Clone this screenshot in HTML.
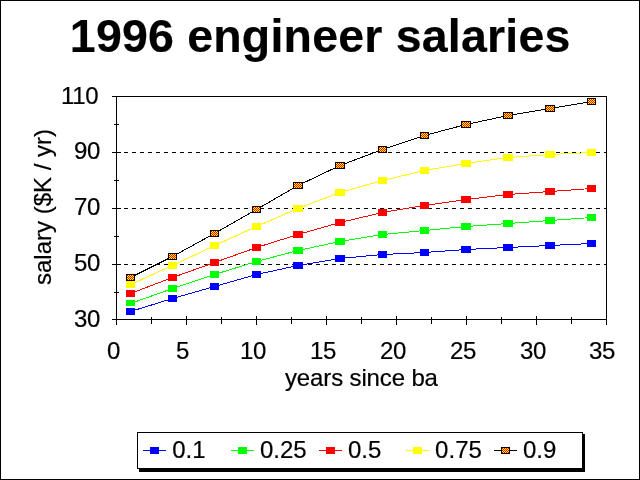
<!DOCTYPE html>
<html><head><meta charset="utf-8"><title>1996 engineer salaries</title>
<style>
html,body{margin:0;padding:0;background:#fff;}
body{width:640px;height:480px;overflow:hidden;}
svg{display:block;}
text{font-family:"Liberation Sans",sans-serif;fill:#000;stroke:#000;stroke-width:0.2px;}
.t{font-size:24px;}
</style></head><body>
<svg width="640" height="480" viewBox="0 0 640 480">
<defs>
<pattern id="chk" x="0" y="0" width="2" height="2" patternUnits="userSpaceOnUse">
<rect x="0" y="0" width="2" height="2" fill="#ff0000"/>
<rect x="1" y="0" width="1" height="1" fill="#ffff00"/>
<rect x="0" y="1" width="1" height="1" fill="#ffff00"/>
</pattern>
</defs>
<rect x="0" y="0" width="640" height="480" fill="#fff"/>
<g shape-rendering="crispEdges">
<rect x="0.5" y="0.5" width="639" height="479" fill="none" stroke="#000" stroke-width="1"/>
<text id="title" x="320.2" y="52.3" text-anchor="middle" letter-spacing="0.2" font-size="46.5" font-weight="bold">1996 engineer salaries</text>
<line x1="116" y1="152.5" x2="606" y2="152.5" stroke="#000" stroke-width="1" stroke-dasharray="4 4"/>
<line x1="116" y1="208.5" x2="606" y2="208.5" stroke="#000" stroke-width="1" stroke-dasharray="4 4"/>
<line x1="116" y1="264.5" x2="606" y2="264.5" stroke="#000" stroke-width="1" stroke-dasharray="4 4"/>
<rect x="116.5" y="96.5" width="490" height="223" fill="none" stroke="#000" stroke-width="1"/>
<rect x="112" y="96" width="9" height="1" fill="#000"/>
<rect x="114" y="124" width="5" height="1" fill="#000"/>
<rect x="112" y="152" width="9" height="1" fill="#000"/>
<rect x="114" y="180" width="5" height="1" fill="#000"/>
<rect x="112" y="208" width="9" height="1" fill="#000"/>
<rect x="114" y="236" width="5" height="1" fill="#000"/>
<rect x="112" y="264" width="9" height="1" fill="#000"/>
<rect x="114" y="292" width="5" height="1" fill="#000"/>
<rect x="112" y="319" width="9" height="1" fill="#000"/>
<rect x="116" y="316" width="1" height="9" fill="#000"/>
<rect x="151" y="317" width="1" height="7" fill="#000"/>
<rect x="186" y="316" width="1" height="9" fill="#000"/>
<rect x="221" y="317" width="1" height="7" fill="#000"/>
<rect x="256" y="316" width="1" height="9" fill="#000"/>
<rect x="291" y="317" width="1" height="7" fill="#000"/>
<rect x="326" y="316" width="1" height="9" fill="#000"/>
<rect x="361" y="317" width="1" height="7" fill="#000"/>
<rect x="396" y="316" width="1" height="9" fill="#000"/>
<rect x="431" y="317" width="1" height="7" fill="#000"/>
<rect x="466" y="316" width="1" height="9" fill="#000"/>
<rect x="501" y="317" width="1" height="7" fill="#000"/>
<rect x="536" y="316" width="1" height="9" fill="#000"/>
<rect x="571" y="317" width="1" height="7" fill="#000"/>
<rect x="606" y="316" width="1" height="9" fill="#000"/>
<polyline points="130.5,311.5 172.5,298.5 214.5,286.5 256.5,274.5 298.0,265.5 340.0,258.5 382.5,254.5 424.5,252.5 466.0,249.5 508.0,247.5 550.0,245.5 591.5,243.5" fill="none" stroke="#0000ff" stroke-width="1"/>
<rect x="126" y="308" width="9" height="7" fill="#0000ff"/>
<rect x="168" y="295" width="9" height="7" fill="#0000ff"/>
<rect x="210" y="283" width="9" height="7" fill="#0000ff"/>
<rect x="252" y="271" width="9" height="7" fill="#0000ff"/>
<rect x="293" y="262" width="10" height="7" fill="#0000ff"/>
<rect x="335" y="255" width="10" height="7" fill="#0000ff"/>
<rect x="378" y="251" width="9" height="7" fill="#0000ff"/>
<rect x="420" y="249" width="9" height="7" fill="#0000ff"/>
<rect x="461" y="246" width="10" height="7" fill="#0000ff"/>
<rect x="503" y="244" width="10" height="7" fill="#0000ff"/>
<rect x="545" y="242" width="10" height="7" fill="#0000ff"/>
<rect x="587" y="240" width="9" height="7" fill="#0000ff"/>
<polyline points="130.5,303.5 172.5,288.5 214.5,274.5 256.5,261.5 298.0,250.5 340.0,241.5 382.5,234.5 424.5,230.5 466.0,226.5 508.0,223.5 550.0,220.5 591.5,217.5" fill="none" stroke="#00ff00" stroke-width="1"/>
<rect x="126" y="300" width="9" height="6" fill="#00ff00"/>
<rect x="168" y="285" width="9" height="7" fill="#00ff00"/>
<rect x="210" y="271" width="9" height="7" fill="#00ff00"/>
<rect x="252" y="258" width="9" height="7" fill="#00ff00"/>
<rect x="293" y="247" width="10" height="7" fill="#00ff00"/>
<rect x="335" y="238" width="10" height="7" fill="#00ff00"/>
<rect x="378" y="231" width="9" height="7" fill="#00ff00"/>
<rect x="420" y="227" width="9" height="7" fill="#00ff00"/>
<rect x="461" y="223" width="10" height="7" fill="#00ff00"/>
<rect x="503" y="220" width="10" height="7" fill="#00ff00"/>
<rect x="545" y="217" width="10" height="7" fill="#00ff00"/>
<rect x="587" y="214" width="9" height="7" fill="#00ff00"/>
<polyline points="130.5,293.5 172.5,277.5 214.5,262.5 256.5,247.5 298.0,234.5 340.0,222.5 382.5,212.5 424.5,205.5 466.0,199.5 508.0,194.5 550.0,191.5 591.5,188.5" fill="none" stroke="#ff0000" stroke-width="1"/>
<rect x="126" y="290" width="9" height="7" fill="#ff0000"/>
<rect x="168" y="274" width="9" height="7" fill="#ff0000"/>
<rect x="210" y="259" width="9" height="7" fill="#ff0000"/>
<rect x="252" y="244" width="9" height="7" fill="#ff0000"/>
<rect x="293" y="231" width="10" height="7" fill="#ff0000"/>
<rect x="335" y="219" width="10" height="7" fill="#ff0000"/>
<rect x="378" y="209" width="9" height="7" fill="#ff0000"/>
<rect x="420" y="202" width="9" height="7" fill="#ff0000"/>
<rect x="461" y="196" width="10" height="7" fill="#ff0000"/>
<rect x="503" y="191" width="10" height="7" fill="#ff0000"/>
<rect x="545" y="188" width="10" height="7" fill="#ff0000"/>
<rect x="587" y="185" width="9" height="7" fill="#ff0000"/>
<polyline points="130.5,284.5 172.5,265.5 214.5,245.5 256.5,226.5 298.0,208.5 340.0,192.5 382.5,180.5 424.5,170.5 466.0,163.5 508.0,157.5 550.0,154.5 591.5,152.5" fill="none" stroke="#ffff00" stroke-width="1"/>
<rect x="126" y="281" width="9" height="7" fill="#ffff00"/>
<rect x="168" y="262" width="9" height="7" fill="#ffff00"/>
<rect x="210" y="242" width="9" height="7" fill="#ffff00"/>
<rect x="252" y="223" width="9" height="7" fill="#ffff00"/>
<rect x="293" y="205" width="10" height="7" fill="#ffff00"/>
<rect x="335" y="189" width="10" height="7" fill="#ffff00"/>
<rect x="378" y="177" width="9" height="7" fill="#ffff00"/>
<rect x="420" y="167" width="9" height="7" fill="#ffff00"/>
<rect x="461" y="160" width="10" height="7" fill="#ffff00"/>
<rect x="503" y="154" width="10" height="7" fill="#ffff00"/>
<rect x="545" y="151" width="10" height="7" fill="#ffff00"/>
<rect x="587" y="149" width="9" height="7" fill="#ffff00"/>
<polyline points="130.5,277.5 172.5,256.5 214.5,233.5 256.5,209.5 298.0,185.5 340.0,165.5 382.5,149.5 424.5,135.5 466.0,124.5 508.0,115.5 550.0,108.5 591.5,101.5" fill="none" stroke="#000000" stroke-width="1"/>
<rect x="126" y="274" width="9" height="7" fill="#000"/><rect x="127" y="275" width="7" height="5" fill="url(#chk)"/>
<rect x="168" y="253" width="9" height="7" fill="#000"/><rect x="169" y="254" width="7" height="5" fill="url(#chk)"/>
<rect x="210" y="230" width="9" height="7" fill="#000"/><rect x="211" y="231" width="7" height="5" fill="url(#chk)"/>
<rect x="252" y="206" width="9" height="7" fill="#000"/><rect x="253" y="207" width="7" height="5" fill="url(#chk)"/>
<rect x="293" y="182" width="10" height="7" fill="#000"/><rect x="294" y="183" width="8" height="5" fill="url(#chk)"/>
<rect x="335" y="162" width="10" height="7" fill="#000"/><rect x="336" y="163" width="8" height="5" fill="url(#chk)"/>
<rect x="378" y="146" width="9" height="7" fill="#000"/><rect x="379" y="147" width="7" height="5" fill="url(#chk)"/>
<rect x="420" y="132" width="9" height="7" fill="#000"/><rect x="421" y="133" width="7" height="5" fill="url(#chk)"/>
<rect x="461" y="121" width="10" height="7" fill="#000"/><rect x="462" y="122" width="8" height="5" fill="url(#chk)"/>
<rect x="503" y="112" width="10" height="7" fill="#000"/><rect x="504" y="113" width="8" height="5" fill="url(#chk)"/>
<rect x="545" y="105" width="10" height="7" fill="#000"/><rect x="546" y="106" width="8" height="5" fill="url(#chk)"/>
<rect x="587" y="98" width="9" height="7" fill="#000"/><rect x="588" y="99" width="7" height="5" fill="url(#chk)"/>
<rect x="139" y="434" width="446" height="38" fill="#000"/>
<rect x="137.5" y="432.5" width="445" height="36" fill="#fff" stroke="#000" stroke-width="1"/>
<rect x="143" y="450" width="23" height="1" fill="#0000ff"/>
<rect x="150" y="447" width="9" height="7" fill="#0000ff"/>
<rect x="231" y="450" width="23" height="1" fill="#00ff00"/>
<rect x="238" y="447" width="9" height="7" fill="#00ff00"/>
<rect x="319" y="450" width="23" height="1" fill="#ff0000"/>
<rect x="326" y="447" width="9" height="7" fill="#ff0000"/>
<rect x="406" y="450" width="23" height="1" fill="#ffff00"/>
<rect x="413" y="447" width="9" height="7" fill="#ffff00"/>
<rect x="494" y="450" width="23" height="1" fill="#000000"/>
<rect x="501" y="447" width="9" height="7" fill="#000"/><rect x="502" y="448" width="7" height="5" fill="url(#chk)"/>
</g>
<text class="t" x="61.1" y="104" letter-spacing="-0.34">110</text>
<text class="t" x="74.1" y="159" letter-spacing="-0.34">90</text>
<text class="t" x="74.1" y="215" letter-spacing="-0.34">70</text>
<text class="t" x="74.1" y="271" letter-spacing="-0.34">50</text>
<text class="t" x="74.1" y="327" letter-spacing="-0.34">30</text>
<text class="t" x="107.1" y="359" letter-spacing="-0.34">0</text>
<text class="t" x="176.1" y="359" letter-spacing="-0.34">5</text>
<text class="t" x="240.1" y="359" letter-spacing="-0.34">10</text>
<text class="t" x="310.1" y="359" letter-spacing="-0.34">15</text>
<text class="t" x="380.1" y="359" letter-spacing="-0.34">20</text>
<text class="t" x="450.1" y="359" letter-spacing="-0.34">25</text>
<text class="t" x="520.1" y="359" letter-spacing="-0.34">30</text>
<text class="t" x="589.1" y="359" letter-spacing="-0.34">35</text>
<text class="t" id="xt" x="285.00" y="386" letter-spacing="-0.137">years since ba</text>
<text class="t" id="yt" transform="translate(51,285.02) rotate(-90)" letter-spacing="0.007">salary ($K / yr)</text>
<text class="t" x="172.22" y="458" letter-spacing="0.000">0.1</text>
<text class="t" x="259.88" y="458" letter-spacing="0.000">0.25</text>
<text class="t" x="347.88" y="458" letter-spacing="0.000">0.5</text>
<text class="t" x="435.12" y="458" letter-spacing="0.000">0.75</text>
<text class="t" x="522.88" y="458" letter-spacing="0.000">0.9</text>
</svg>
</body></html>
